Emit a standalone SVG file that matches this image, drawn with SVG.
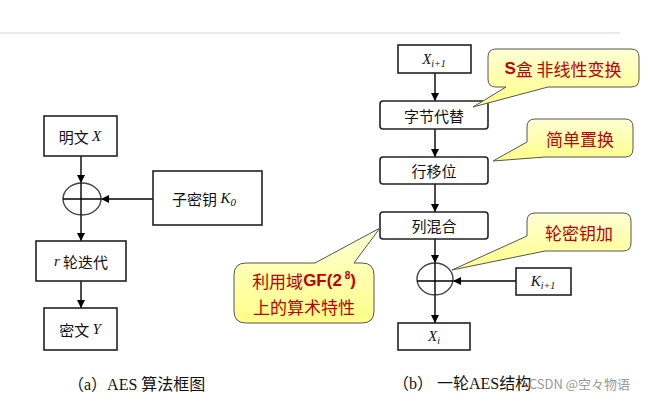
<svg xmlns="http://www.w3.org/2000/svg" width="651" height="404" viewBox="0 0 651 404">
<defs>
<linearGradient id="yg" x1="0" y1="0" x2="0" y2="1">
<stop offset="0" stop-color="#ffffd4"/>
<stop offset="1" stop-color="#ffff88"/>
</linearGradient>
<marker id="ah" viewBox="0 0 10 10" refX="10" refY="5" markerWidth="8" markerHeight="8" markerUnits="userSpaceOnUse" orient="auto">
<path d="M0,0 L10,5 L0,10 Z" fill="#000"/>
</marker>
<style>
.box{fill:#fff;stroke:#222;stroke-width:1.6}
.xor{fill:none;stroke:#444;stroke-width:1.4}
.ln{stroke:#000;stroke-width:1.4;fill:none}
.arr{stroke:#000;stroke-width:1.4;fill:none;marker-end:url(#ah)}
.call{fill:url(#yg);stroke:#555;stroke-width:1}
.t{font-family:"Noto Sans CJK SC","Liberation Sans",sans-serif;font-size:15px;fill:#111;text-anchor:middle;dominant-baseline:central}
.m{font-family:"Liberation Serif",serif;font-style:italic}
.r{font-family:"Noto Sans CJK SC","Liberation Sans",sans-serif;font-size:17px;fill:#c00000;text-anchor:middle;dominant-baseline:central}
.b{font-family:"Liberation Sans",sans-serif;font-weight:bold}
.cap{font-family:"Liberation Serif","Noto Sans CJK SC",serif;font-size:16px;fill:#111;dominant-baseline:central}
</style>
</defs>
<rect width="651" height="404" fill="#fff"/>
<line x1="0" y1="33" x2="620" y2="33" stroke="#e6e6dc" stroke-width="1.5"/>

<g id="connectors">
<line class="arr" x1="81" y1="156" x2="81" y2="183"/>
<line class="arr" x1="153" y1="199" x2="101" y2="199"/>
<line class="arr" x1="81" y1="215" x2="81" y2="241"/>
<line class="arr" x1="81" y1="281" x2="81" y2="308"/>
<line class="arr" x1="435" y1="73" x2="435" y2="101"/>
<line class="arr" x1="435" y1="129" x2="435" y2="157"/>
<line class="arr" x1="435" y1="184" x2="435" y2="212"/>
<line class="arr" x1="435" y1="239" x2="435" y2="263"/>
<line class="arr" x1="516" y1="281" x2="453" y2="281"/>
<line class="arr" x1="435" y1="295" x2="435" y2="323"/>
</g>

<g id="plaintext">
<rect class="box" x="44" y="116" width="73" height="40"/>
<text class="t" x="80" y="136">明文 <tspan class="m">X</tspan></text>
</g>
<g id="xor-left">
<ellipse class="xor" cx="82" cy="199" rx="19" ry="16"/>
<line class="ln" x1="63" y1="199" x2="101" y2="199"/>
<line class="ln" x1="81" y1="183" x2="81" y2="215"/>
</g>
<g id="subkey0">
<rect class="box" x="153" y="171" width="109" height="54"/>
<text class="t" x="204" y="198">子密钥 <tspan class="m">K</tspan><tspan class="m" font-size="11" dy="4">0</tspan></text>
</g>
<g id="rounds">
<rect class="box" x="36" y="241" width="90" height="40"/>
<text class="t" x="81" y="261"><tspan class="m">r</tspan> 轮迭代</text>
</g>
<g id="ciphertext">
<rect class="box" x="44" y="308" width="73" height="42"/>
<text class="t" x="80" y="329">密文 <tspan class="m">Y</tspan></text>
</g>
<text id="caption-a" class="cap" x="68" y="384">（a）AES 算法框图</text>

<g id="x-in">
<rect class="box" x="398" y="45" width="73" height="28"/>
<text class="t" x="434" y="59"><tspan class="m">X</tspan><tspan class="m" font-size="10" dy="4">i+1</tspan></text>
</g>
<g id="subbytes">
<rect class="box" x="380" y="101" width="108" height="28" rx="3"/>
<text class="t" x="434" y="115">字节代替</text>
</g>
<g id="shiftrows">
<rect class="box" x="380" y="157" width="108" height="27" rx="3"/>
<text class="t" x="434" y="170.5">行移位</text>
</g>
<g id="mixcolumns">
<rect class="box" x="380" y="212" width="108" height="27" rx="3"/>
<text class="t" x="434" y="225.5">列混合</text>
</g>
<g id="xor-right">
<ellipse class="xor" cx="435" cy="279" rx="18" ry="16"/>
<line class="ln" x1="417" y1="281" x2="453" y2="281"/>
<line class="ln" x1="435" y1="263" x2="435" y2="295"/>
</g>
<g id="roundkey">
<rect class="box" x="516" y="268" width="55" height="27"/>
<text class="t" x="543" y="281"><tspan class="m">K</tspan><tspan class="m" font-size="10" dy="4">i+1</tspan></text>
</g>
<g id="x-out">
<rect class="box" x="398" y="323" width="72" height="27"/>
<text class="t" x="434" y="336"><tspan class="m">X</tspan><tspan class="m" font-size="10" dy="4">i</tspan></text>
</g>

<g id="callout-sbox">
<path class="call" d="M496,49 H631 Q639,49 639,57 V79 Q639,87 631,87 H548 L473,107 L506,87 H496 Q488,87 488,79 V57 Q488,49 496,49 Z"/>
<text class="r" x="563" y="68"><tspan class="b">S</tspan>盒 非线性变换</text>
</g>
<g id="callout-shift">
<path class="call" d="M535,119 H625 Q633,119 633,127 V149 Q633,157 625,157 H545 L493,161 L527,142 V127 Q527,119 535,119 Z"/>
<text class="r" x="580" y="138">简单置换</text>
</g>
<g id="callout-key">
<path class="call" d="M535,213 H623 Q631,213 631,221 V243 Q631,251 623,251 H545 L452,270 L527,236 V221 Q527,213 535,213 Z"/>
<text class="r" x="579" y="232">轮密钥加</text>
</g>
<g id="callout-gf">
<path class="call" d="M246,263 H315 L380,228 L354,263 H362 Q374,263 374,275 V311 Q374,323 362,323 H246 Q234,323 234,311 V275 Q234,263 246,263 Z"/>
<text class="r" x="304" y="280" font-size="16">利用域<tspan class="b">GF(2</tspan><tspan class="b" font-size="10" dy="-5"> 8</tspan><tspan class="b" dy="5">)</tspan></text>
<text class="r" x="304" y="306" font-size="16">上的算术特性</text>
</g>

<text id="caption-b" class="cap" x="393" y="383" font-size="15">（b） 一轮AES结构</text>
<text id="watermark" x="630" y="383" text-anchor="end" font-family="'Noto Sans CJK SC','Liberation Sans',sans-serif" font-size="13" fill="#999" dominant-baseline="central">CSDN @空々物语</text>
</svg>
